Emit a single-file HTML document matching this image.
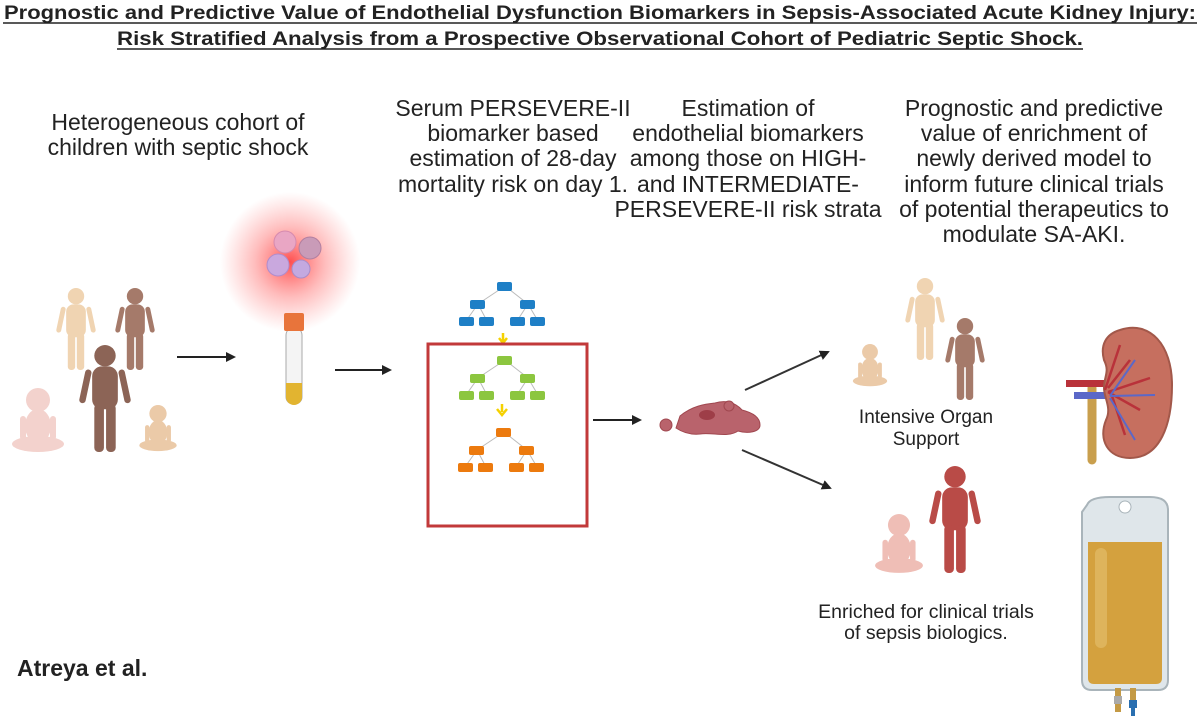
<!DOCTYPE html>
<html><head><meta charset="utf-8"><style>
html,body{margin:0;padding:0;background:#fff;}
svg{display:block;}
text{font-family:"Liberation Sans",sans-serif;fill:#222;}
</style></head><body>
<svg width="1200" height="716" viewBox="0 0 1200 716" xmlns="http://www.w3.org/2000/svg">
<defs>
<radialGradient id="glow"><stop offset="0" stop-color="#ff3b3b" stop-opacity="0.9"/><stop offset="0.5" stop-color="#ff6b6b" stop-opacity="0.45"/><stop offset="1" stop-color="#ff8080" stop-opacity="0"/></radialGradient>
<marker id="ah" markerWidth="10" markerHeight="10" refX="8" refY="5" orient="auto" markerUnits="userSpaceOnUse"><path d="M0,0 L10,5 L0,10 Z" fill="#222"/></marker>
<g id="stand">
 <circle cx="0" cy="10" r="10"/>
 <rect x="-12" y="20" width="24" height="40" rx="9"/>
 <rect x="-18" y="23" width="6" height="32" rx="3" transform="rotate(12 -15 23)"/>
 <rect x="12" y="23" width="6" height="32" rx="3" transform="rotate(-12 15 23)"/>
 <rect x="-10" y="55" width="9" height="45" rx="4"/>
 <rect x="1" y="55" width="9" height="45" rx="4"/>
</g>
<g id="sit">
 <circle cx="0" cy="12" r="12"/>
 <ellipse cx="0" cy="38" rx="13" ry="17"/>
 <ellipse cx="0" cy="56" rx="26" ry="8"/>
 <rect x="-18" y="28" width="6" height="24" rx="3"/>
 <rect x="12" y="28" width="6" height="24" rx="3"/>
</g>
<g id="tree">
 <g stroke="#bbb" stroke-width="1"><line x1="505" y1="286" x2="478" y2="304"/><line x1="505" y1="286" x2="528" y2="304"/><line x1="478" y1="304" x2="466" y2="321"/><line x1="478" y1="304" x2="487" y2="321"/><line x1="528" y1="304" x2="517" y2="321"/><line x1="528" y1="304" x2="538" y2="321"/></g>
 <rect x="497" y="282" width="15" height="9" rx="2"/>
 <rect x="470" y="300" width="15" height="9" rx="2"/><rect x="520" y="300" width="15" height="9" rx="2"/>
 <rect x="459" y="317" width="15" height="9" rx="2"/><rect x="479" y="317" width="15" height="9" rx="2"/><rect x="510" y="317" width="15" height="9" rx="2"/><rect x="530" y="317" width="15" height="9" rx="2"/>
</g>
</defs>

<!-- title -->
<text x="600" y="19" text-anchor="middle" font-size="19" font-weight="bold" textLength="1192" lengthAdjust="spacingAndGlyphs">Prognostic and Predictive Value of Endothelial Dysfunction Biomarkers in Sepsis-Associated Acute Kidney Injury:</text>
<line x1="3" y1="23" x2="1197" y2="23" stroke="#222" stroke-width="1.5"/>
<text x="600" y="45" text-anchor="middle" font-size="19" font-weight="bold" textLength="966" lengthAdjust="spacingAndGlyphs">Risk Stratified Analysis from a Prospective Observational Cohort of Pediatric Septic Shock.</text>
<line x1="117" y1="49" x2="1083" y2="49" stroke="#222" stroke-width="1.5"/>

<!-- column headings -->
<g font-size="23" text-anchor="middle">
<text x="178" y="130">Heterogeneous cohort of</text>
<text x="178" y="155">children with septic shock</text>
<text x="513" y="116">Serum PERSEVERE-II</text>
<text x="513" y="141">biomarker based</text>
<text x="513" y="166">estimation of 28-day</text>
<text x="513" y="192">mortality risk on day 1.</text>
<text x="748" y="116">Estimation of</text>
<text x="748" y="141">endothelial biomarkers</text>
<text x="748" y="166">among those on HIGH-</text>
<text x="748" y="192">and INTERMEDIATE-</text>
<text x="748" y="217">PERSEVERE-II risk strata</text>
<text x="1034" y="116">Prognostic and predictive</text>
<text x="1034" y="141">value of enrichment of</text>
<text x="1034" y="166">newly derived model to</text>
<text x="1034" y="192">inform future clinical trials</text>
<text x="1034" y="217">of potential therapeutics to</text>
<text x="1034" y="242">modulate SA-AKI.</text>
</g>

<!-- children left -->
<use href="#stand" fill="#f0d4b2" transform="translate(76,288) scale(0.82)"/>
<use href="#stand" fill="#a57a6a" transform="translate(135,288) scale(0.82)"/>
<use href="#stand" fill="#8c6456" transform="translate(105,345) scale(1.07)"/>
<use href="#sit" fill="#f3d2cd" transform="translate(38,388) scale(1.0)"/>
<use href="#sit" fill="#ebcaa8" transform="translate(158,405) scale(0.72)"/>

<!-- arrows -->
<line x1="177" y1="357" x2="234" y2="357" stroke="#222" stroke-width="2" marker-end="url(#ah)"/>
<line x1="335" y1="370" x2="390" y2="370" stroke="#222" stroke-width="2" marker-end="url(#ah)"/>
<line x1="593" y1="420" x2="640" y2="420" stroke="#222" stroke-width="2" marker-end="url(#ah)"/>
<line x1="745" y1="390" x2="828" y2="352" stroke="#333" stroke-width="2" marker-end="url(#ah)"/>
<line x1="742" y1="450" x2="830" y2="488" stroke="#333" stroke-width="2" marker-end="url(#ah)"/>

<!-- glow & cells -->
<circle cx="290" cy="262" r="70" fill="url(#glow)"/>
<circle cx="285" cy="242" r="11" fill="#e9a6c4" stroke="#d68aae"/>
<circle cx="310" cy="248" r="11" fill="#c99bb8" stroke="#b27fa0"/>
<circle cx="278" cy="265" r="11" fill="#c9a8de" stroke="#b08ccc"/>
<circle cx="301" cy="269" r="9" fill="#c3a9e0" stroke="#a98cc8"/>
<!-- tube -->
<rect x="286" y="328" width="16" height="76" rx="7" fill="#f4f4f4" stroke="#aaa"/>
<path d="M286,383 h16 v14 a8,8 0 0 1 -16,0 z" fill="#e2b430"/>
<rect x="284" y="313" width="20" height="18" rx="2" fill="#e8743b"/>

<!-- trees -->
<use href="#tree" fill="#1e7fc6"/>
<path d="M503,333 v8 M499,338 l4,5 l4,-5" stroke="#f5d100" stroke-width="2.5" fill="none"/>
<rect x="428" y="344" width="159" height="182" fill="none" stroke="#c2393a" stroke-width="3"/>
<use href="#tree" fill="#8cc63f" transform="translate(0,74)"/>
<path d="M502,404 v8 M497,409 l5,6 l5,-6" stroke="#f5d100" stroke-width="2.5" fill="none"/>
<use href="#tree" fill="#ec7a0e" transform="translate(-1,146)"/>

<!-- tissue -->
<path d="M680,416 C692,406 705,404 715,403 C725,400 735,402 742,410 C750,412 760,416 760,425 C760,432 748,434 738,431 C728,438 712,432 700,434 C690,435 682,432 676,428 Z" fill="#b9636c" stroke="#a0474f"/>
<circle cx="666" cy="425" r="6" fill="#b9636c" stroke="#a0474f"/>
<circle cx="729" cy="406" r="5" fill="#b9636c" stroke="#a0474f"/>
<ellipse cx="707" cy="415" rx="8" ry="5" fill="#9e3e48"/>

<!-- right children -->
<use href="#stand" fill="#f0d4b2" transform="translate(925,278) scale(0.82)"/>
<use href="#stand" fill="#a57a6a" transform="translate(965,318) scale(0.82)"/>
<use href="#sit" fill="#ebcaa8" transform="translate(870,344) scale(0.66)"/>
<text x="926" y="423" text-anchor="middle" font-size="19">Intensive Organ</text>
<text x="926" y="445" text-anchor="middle" font-size="19">Support</text>
<use href="#stand" fill="#b94b47" transform="translate(955,466) scale(1.07)"/>
<use href="#sit" fill="#efbeb6" transform="translate(899,514) scale(0.92)"/>
<text x="926" y="618" text-anchor="middle" font-size="19.5">Enriched for clinical trials</text>
<text x="926" y="639" text-anchor="middle" font-size="19.5">of sepsis biologics.</text>

<!-- kidney -->
<path d="M1092,388 v72" stroke="#c99f4d" stroke-width="9" fill="none" stroke-linecap="round"/>
<rect x="1066" y="380" width="45" height="7" fill="#b9323a"/>
<rect x="1074" y="392" width="38" height="7" fill="#5b68c8"/>
<path d="M1120,330 C1150,320 1172,345 1172,385 C1172,425 1160,458 1130,458 C1108,458 1098,440 1106,420 C1112,408 1104,398 1104,388 C1104,376 1110,372 1104,360 C1100,345 1106,334 1120,330 Z" fill="#c66f5f" stroke="#a2584a" stroke-width="2"/>
<path d="M1108,388 L1130,360 M1108,392 L1150,378 M1108,392 L1140,410 M1110,390 L1125,435 M1105,390 L1120,345" stroke="#b9323a" stroke-width="2.5"/>
<path d="M1110,396 L1135,360 M1110,396 L1155,395 M1110,398 L1135,440" stroke="#5b68c8" stroke-width="2"/>

<!-- bag -->
<path d="M1087,505 Q1090,497 1110,497 L1150,497 Q1168,497 1168,510 L1168,680 Q1168,690 1158,690 L1092,690 Q1082,690 1082,680 L1082,512 Z" fill="#dfe6ea" stroke="#a9b4ba" stroke-width="2"/>
<circle cx="1125" cy="507" r="6" fill="#fff" stroke="#a9b4ba"/>
<path d="M1088,542 L1162,542 L1162,678 Q1162,684 1156,684 L1094,684 Q1088,684 1088,678 Z" fill="#d4a13e"/>
<rect x="1095" y="548" width="12" height="100" rx="6" fill="#e3bc6a" opacity="0.7"/>
<rect x="1115" y="688" width="6" height="24" fill="#c49a45"/>
<rect x="1130" y="688" width="6" height="20" fill="#c49a45"/>
<rect x="1114" y="696" width="8" height="8" fill="#aaa"/>
<rect x="1129" y="700" width="8" height="8" fill="#2a6fb0"/>
<rect x="1131" y="706" width="4" height="10" fill="#2a6fb0"/>

<text x="17" y="676" font-size="23" font-weight="bold">Atreya et al.</text>
</svg>
</body></html>
